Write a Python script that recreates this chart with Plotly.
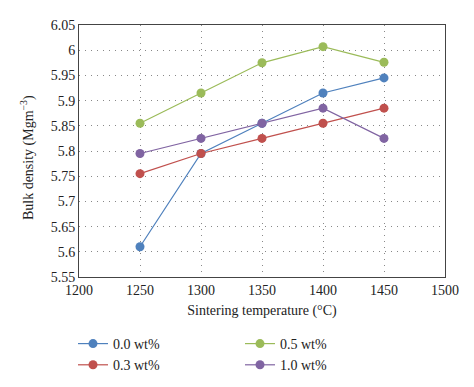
import plotly.graph_objects as go

temps = [1250, 1300, 1350, 1400, 1450]
s00 = [5.61, 5.795, 5.855, 5.915, 5.945]
s03 = [5.755, 5.795, 5.825, 5.855, 5.885]
s05 = [5.855, 5.915, 5.975, 6.007, 5.976]
s10 = [5.795, 5.825, 5.855, 5.885, 5.825]

series = [
    ("0.0 wt%", s00, "#4F81BD", "legend"),
    ("0.3 wt%", s03, "#C0504D", "legend"),
    ("0.5 wt%", s05, "#9BBB59", "legend2"),
    ("1.0 wt%", s10, "#8064A2", "legend2"),
]

fig = go.Figure()
for name, ys, col, lg in series:
    fig.add_trace(go.Scatter(x=temps, y=ys, name=name, mode="lines+markers",
                             line=dict(color=col, width=1.2),
                             marker=dict(color=col, size=9), legend=lg))

W, H = 466, 379
font = "Liberation Serif"
legfont = dict(size=14, family=font, color="#222")
grid = dict(showgrid=True, gridcolor="#888", griddash="1px,5px", gridwidth=1,
            showline=True, linecolor="#444", linewidth=1, mirror=True,
            zeroline=False, ticks="", tickfont=dict(size=14))
fig.update_layout(
    width=W, height=H,
    margin=dict(l=71, r=29, t=17, b=110, autoexpand=False),
    paper_bgcolor="white", plot_bgcolor="white",
    font=dict(family=font, size=14, color="#222"),
    showlegend=True,
    legend=dict(x=65 / W, xref="container", xanchor="left", yref="container", y=1 - 320 / H,
                yanchor="top", tracegroupgap=0, font=legfont, itemwidth=30, bgcolor="rgba(0,0,0,0)"),
    legend2=dict(x=232 / W, xref="container", xanchor="left", yref="container", y=1 - 320 / H,
                 yanchor="top", tracegroupgap=0, font=legfont, itemwidth=30, bgcolor="rgba(0,0,0,0)"),
    xaxis=dict(range=[1200, 1500], dtick=50, tick0=1200,
               title=dict(text="Sintering temperature (°C)", font=dict(size=14), standoff=8), **grid),
    yaxis=dict(range=[5.55, 6.05], dtick=0.05, tick0=5.55, tickformat="~g", **grid),
    annotations=[dict(text="Bulk density (Mgm<sup>−3</sup>)", textangle=-90, xref="paper", yref="paper",
                      x=-0.142, y=0.472, xanchor="center", yanchor="middle", showarrow=False,
                      font=dict(size=14, family=font, color="#222"))],
)
fig.write_html("out.html")
